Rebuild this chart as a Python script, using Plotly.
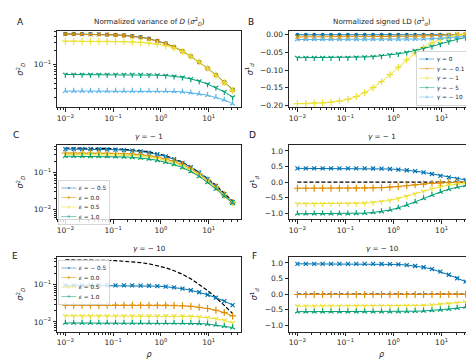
import plotly.graph_objects as go

# ---------------- data ----------------
rho = [0.01, 0.01496, 0.02239, 0.03350, 0.05012, 0.07499, 0.1122, 0.1679, 0.2512,
       0.3758, 0.5623, 0.8414, 1.259, 1.884, 2.818, 4.217, 6.310, 9.441, 14.13,
       21.13, 31.62]

# Panel A: normalized variance of D (eps = 0)
A_g0 = [0.452, 0.451, 0.450, 0.447, 0.444, 0.438, 0.431, 0.420, 0.405, 0.384, 0.357,
        0.322, 0.282, 0.238, 0.193, 0.150, 0.113, 0.083, 0.060, 0.042, 0.029]
A_g01 = [0.448, 0.447, 0.446, 0.443, 0.440, 0.435, 0.428, 0.417, 0.402, 0.381, 0.354,
         0.320, 0.280, 0.236, 0.191, 0.149, 0.112, 0.082, 0.059, 0.041, 0.0285]
A_g1 = [0.315, 0.315, 0.314, 0.314, 0.313, 0.312, 0.311, 0.308, 0.304, 0.297, 0.287,
        0.273, 0.253, 0.226, 0.190, 0.150, 0.113, 0.083, 0.059, 0.041, 0.028]
A_g5 = [0.061, 0.061, 0.061, 0.061, 0.061, 0.061, 0.061, 0.061, 0.061, 0.0605, 0.060,
        0.059, 0.058, 0.056, 0.053, 0.049, 0.044, 0.038, 0.032, 0.026, 0.020]
A_g10 = [0.027, 0.027, 0.027, 0.027, 0.027, 0.027, 0.027, 0.027, 0.027, 0.027, 0.027,
         0.027, 0.027, 0.0265, 0.026, 0.025, 0.0235, 0.022, 0.020, 0.0175, 0.0145]

# Panel B: normalized signed LD
B_g0 = [0.0] * 21
B_g01 = [-0.006, -0.006, -0.006, -0.006, -0.006, -0.006, -0.006, -0.006, -0.006, -0.006,
         -0.006, -0.0058, -0.0055, -0.005, -0.0045, -0.0035, -0.0025, -0.0015, -0.0005,
         0.0008, 0.002]
B_g1 = [-0.195, -0.195, -0.194, -0.193, -0.191, -0.188, -0.183, -0.175, -0.164, -0.150,
        -0.133, -0.113, -0.092, -0.071, -0.052, -0.036, -0.023, -0.013, -0.006, -0.001,
        0.002]
B_g5 = [-0.065, -0.065, -0.065, -0.065, -0.065, -0.065, -0.065, -0.064, -0.063, -0.062,
        -0.060, -0.057, -0.054, -0.050, -0.045, -0.040, -0.033, -0.026, -0.019, -0.013,
        -0.008]
B_g10 = [-0.0135, -0.0135, -0.0135, -0.0135, -0.0135, -0.0135, -0.0135, -0.0135, -0.0135,
         -0.0135, -0.0135, -0.0135, -0.0135, -0.013, -0.0125, -0.012, -0.011, -0.0095,
         -0.008, -0.0065, -0.005]

# Reference (dashed) curves
ref_var = [0.45, 0.45, 0.448, 0.446, 0.443, 0.437, 0.429, 0.418, 0.402, 0.381, 0.354,
           0.318, 0.277, 0.232, 0.186, 0.141, 0.101, 0.069, 0.045, 0.028, 0.0168]
ref_ld = [0.0] * 21

# Panel C: gamma = -1, variance
C_em05 = [0.42, 0.42, 0.419, 0.418, 0.416, 0.412, 0.405, 0.395, 0.381, 0.362, 0.338,
          0.305, 0.267, 0.224, 0.18, 0.137, 0.098, 0.066, 0.043, 0.026, 0.016]
C_e00 = [0.33, 0.33, 0.33, 0.329, 0.328, 0.326, 0.322, 0.317, 0.309, 0.297, 0.280,
         0.258, 0.230, 0.197, 0.161, 0.125, 0.091, 0.062, 0.041, 0.025, 0.0155]
C_e05 = [0.30, 0.30, 0.30, 0.299, 0.298, 0.296, 0.293, 0.288, 0.281, 0.270, 0.255,
         0.235, 0.210, 0.180, 0.148, 0.115, 0.085, 0.058, 0.038, 0.024, 0.015]
C_e10 = [0.27, 0.27, 0.27, 0.269, 0.268, 0.266, 0.263, 0.259, 0.252, 0.242, 0.228,
         0.210, 0.188, 0.162, 0.134, 0.105, 0.078, 0.054, 0.036, 0.023, 0.0148]

# Panel D: gamma = -1, signed LD
D_em05 = [0.44, 0.44, 0.44, 0.44, 0.44, 0.44, 0.44, 0.44, 0.44, 0.435, 0.43, 0.42, 0.40,
          0.38, 0.35, 0.31, 0.26, 0.20, 0.15, 0.10, 0.07]
D_e00 = [-0.20, -0.20, -0.20, -0.20, -0.20, -0.20, -0.20, -0.20, -0.195, -0.19, -0.18,
         -0.165, -0.145, -0.12, -0.09, -0.065, -0.04, -0.025, -0.015, -0.008, -0.004]
D_e05 = [-0.70, -0.70, -0.70, -0.70, -0.70, -0.70, -0.695, -0.69, -0.68, -0.66, -0.63,
         -0.59, -0.53, -0.46, -0.38, -0.30, -0.22, -0.15, -0.10, -0.07, -0.05]
D_e10 = [-1.02, -1.02, -1.02, -1.02, -1.02, -1.02, -1.02, -1.01, -1.0, -0.98, -0.95,
         -0.90, -0.83, -0.74, -0.64, -0.53, -0.42, -0.32, -0.23, -0.16, -0.11]

# Panel E: gamma = -10, variance
E_em05 = [0.094, 0.094, 0.094, 0.094, 0.094, 0.094, 0.094, 0.094, 0.094, 0.093, 0.092,
          0.090, 0.087, 0.083, 0.077, 0.070, 0.062, 0.053, 0.044, 0.036, 0.028]
E_e00 = [0.028, 0.028, 0.028, 0.028, 0.028, 0.028, 0.028, 0.028, 0.028, 0.028, 0.028,
         0.028, 0.028, 0.0275, 0.027, 0.026, 0.0245, 0.0228, 0.0205, 0.0178, 0.0145]
E_e05 = [0.0145, 0.0145, 0.0145, 0.0145, 0.0145, 0.0145, 0.0145, 0.0145, 0.0145, 0.0145,
         0.0145, 0.0145, 0.0145, 0.0145, 0.0143, 0.014, 0.0136, 0.013, 0.0121, 0.011,
         0.0095]
E_e10 = [0.0094, 0.0094, 0.0094, 0.0094, 0.0094, 0.0094, 0.0094, 0.0094, 0.0094, 0.0094,
         0.0094, 0.0094, 0.0094, 0.0094, 0.0094, 0.0093, 0.0091, 0.0088, 0.0083, 0.0077,
         0.0071]

# Panel F: gamma = -10, signed LD
F_em05 = [0.97, 0.97, 0.97, 0.97, 0.97, 0.97, 0.97, 0.97, 0.97, 0.97, 0.965, 0.96, 0.95,
          0.93, 0.90, 0.86, 0.80, 0.72, 0.62, 0.51, 0.40]
F_e00 = [-0.01] * 18 + [-0.008, -0.006, -0.004]
F_e05 = [-0.38, -0.38, -0.38, -0.38, -0.38, -0.38, -0.38, -0.38, -0.38, -0.38, -0.38,
         -0.38, -0.38, -0.375, -0.37, -0.36, -0.345, -0.325, -0.30, -0.275, -0.25]
F_e10 = [-0.56, -0.56, -0.56, -0.56, -0.56, -0.56, -0.56, -0.56, -0.56, -0.56, -0.56,
         -0.56, -0.555, -0.55, -0.545, -0.535, -0.52, -0.50, -0.475, -0.445, -0.41]

gamma_labels = ["<i>γ</i> = 0", "<i>γ</i> = − 0.1", "<i>γ</i> = − 1", "<i>γ</i> = − 5",
                "<i>γ</i> = − 10"]
eps_labels = ["<i>ε</i> = − 0.5", "<i>ε</i> = 0.0", "<i>ε</i> = 0.5", "<i>ε</i> = 1.0"]
x_tickvals = [0.01, 0.1, 1, 10]
x_ticktext = ["10<sup>−2</sup>", "10<sup>−1</sup>", "10<sup>0</sup>", "10<sup>1</sup>"]
y_log_tickvals = [0.01, 0.1]
y_log_ticktext = ["10<sup>−2</sup>", "10<sup>−1</sup>"]

# ---------------- style ----------------
BLUE, ORANGE, YELLOW, GREEN, LBLUE = "#0173b2", "#de8f05", "#ece133", "#029e73", "#56b4e9"
FONT = "DejaVu Sans"
W, H = 474, 364
INK = "#262626"

gamma_style = [(BLUE, "circle", 3), (ORANGE, "x-thin", 4), (YELLOW, "cross-thin", 5),
               (GREEN, "y-down", 4), (LBLUE, "y-up", 4)]
eps_style = [(BLUE, "x-thin", 4), (ORANGE, "cross-thin", 5), (YELLOW, "y-down", 4),
             (GREEN, "y-up", 4)]

fig = go.Figure()


def add(n, y, style, name=None, legend=None):
    c, sym, sz = style
    fig.add_trace(go.Scatter(
        x=rho, y=y, mode="lines+markers", name=name,
        line=dict(color=c, width=1),
        marker=dict(symbol=sym, size=sz, color=c, line=dict(color=c, width=1.2)),
        xaxis="x" + str(n), yaxis="y" + str(n),
        showlegend=legend is not None, legend=legend or "legend"))


def add_ref(n, y):
    fig.add_trace(go.Scatter(x=rho, y=y, mode="lines",
                             line=dict(color="black", width=1.2, dash="4px,2px"),
                             xaxis="x" + str(n), yaxis="y" + str(n), showlegend=False))


# A
for y, st in zip([A_g0, A_g01, A_g1, A_g5, A_g10], gamma_style):
    add(1, y, st)
# B
for y, st, nm in zip([B_g0, B_g01, B_g1, B_g5, B_g10], gamma_style, gamma_labels):
    add(2, y, st, nm, "legend")
# C
add_ref(3, ref_var)
for y, st, nm in zip([C_em05, C_e00, C_e05, C_e10], eps_style, eps_labels):
    add(3, y, st, nm, "legend2")
# D
add_ref(4, ref_ld)
for y, st in zip([D_em05, D_e00, D_e05, D_e10], eps_style):
    add(4, y, st)
# E
add_ref(5, ref_var)
for y, st, nm in zip([E_em05, E_e00, E_e05, E_e10], eps_style, eps_labels):
    add(5, y, st, nm, "legend3")
# F
add_ref(6, ref_ld)
for y, st in zip([F_em05, F_e00, F_e05, F_e10], eps_style):
    add(6, y, st)

# ---------------- layout ----------------
cols = [(49, 233), (281, 466)]
rows = [(23, 100), (137.5, 212.5), (250, 325.5)]
minor_log = [m * 10 ** k for k in range(-3, 2) for m in range(2, 10)]

axis_common = dict(showline=True, linecolor=INK, linewidth=1, mirror=True, ticks="outside",
                   ticklen=3.5, tickwidth=0.8, tickcolor=INK, showgrid=False, zeroline=False,
                   tickfont=dict(family=FONT, size=7.5, color=INK))
minor_common = dict(tickmode="array", tickvals=minor_log, ticks="outside", ticklen=2,
                    tickwidth=0.6, tickcolor=INK)

layout = {}
for i in range(6):
    n = i + 1
    r, cidx = divmod(i, 2)
    x0, x1 = cols[cidx]
    y0, y1 = rows[r]
    xa = dict(axis_common, type="log", domain=[x0 / W, x1 / W], range=[-2.175, 1.675],
              tickvals=x_tickvals, ticktext=x_ticktext, anchor="y" + str(n),
              minor=minor_common)
    ya = dict(axis_common, domain=[1 - y1 / H, 1 - y0 / H], anchor="x" + str(n))
    if cidx == 0:
        ya.update(type="log", tickvals=y_log_tickvals, ticktext=y_log_ticktext,
                  minor=minor_common,
                  title=dict(text="<i>σ</i><sup>2</sup><sub><i>D</i></sub>", standoff=8,
                             font=dict(family=FONT, size=8, color=INK)))
    else:
        ya.update(title=dict(text="<i>σ</i><sup>1</sup><sub><i>d</i></sub>", standoff=5,
                             font=dict(family=FONT, size=8, color=INK)))
    if n == 5 or n == 6:
        xa["title"] = dict(text="<i>ρ</i>", standoff=5, font=dict(family=FONT, size=8, color=INK))
    layout["xaxis" + ("" if n == 1 else str(n))] = xa
    layout["yaxis" + ("" if n == 1 else str(n))] = ya

layout["yaxis"]["range"] = [-1.92, -0.28]
layout["yaxis2"].update(range=[-0.206, 0.011], tickvals=[0.0, -0.05, -0.10, -0.15, -0.20],
                        tickformat=".2f")
layout["yaxis3"]["range"] = [-2.26, -0.26]
layout["yaxis4"].update(range=[-1.2, 1.2], tickvals=[1.0, 0.5, 0.0, -0.5, -1.0], tickformat=".1f")
layout["yaxis5"]["range"] = [-2.26, -0.26]
layout["yaxis6"].update(range=[-1.2, 1.2], tickvals=[1.0, 0.5, 0.0, -0.5, -1.0], tickformat=".1f")

fig.update_layout(**layout)

# Legends are laid out by Plotly at a larger font inside the paper (so they never push the
# margins), then shrunk and moved onto their panels after drawing (see post script).
leg_common = dict(font=dict(family=FONT, size=11.5, color=INK), bgcolor="rgba(255,255,255,0.8)",
                  bordercolor="#cccccc", borderwidth=1.6, itemwidth=30, tracegroupgap=0,
                  xanchor="left", yanchor="top")
fig.update_layout(
    width=W, height=H, margin=dict(l=0, r=0, t=0, b=0),
    paper_bgcolor="white", plot_bgcolor="white",
    legend=dict(leg_common, x=0.5, y=0.95),
    legend2=dict(leg_common, x=0.1, y=0.6),
    legend3=dict(leg_common, x=0.1, y=0.3),
)

# titles and panel letters
titles = [
    ("Normalized variance of <i>D</i> (<i>σ</i><sup>2</sup><sub><i>D</i></sub>)", 141, 14),
    ("Normalized signed LD (<i>σ</i><sup>1</sup><sub><i>d</i></sub>)", 374, 14),
    ("<i>γ</i> = − 1", 141, 129), ("<i>γ</i> = − 1", 374, 129),
    ("<i>γ</i> = − 10", 141, 242), ("<i>γ</i> = − 10", 374, 242),
]
for t, x, y in titles:
    fig.add_annotation(text=t, x=x / W, y=1 - y / H, xref="paper", yref="paper", showarrow=False,
                       font=dict(family=FONT, size=7.2, color=INK), xanchor="center",
                       yanchor="middle")
letters = [("A", 12, 14), ("B", 243, 14), ("C", 8, 128), ("D", 244, 128), ("E", 7, 249),
           ("F", 247, 249)]
for t, x, y in letters:
    fig.add_annotation(text=t, x=x / W, y=1 - y / H, xref="paper", yref="paper", showarrow=False,
                       font=dict(family=FONT, size=9, color="#111"), xanchor="center",
                       yanchor="middle")

post = """
var gd = document.getElementById('{plot_id}');
function compactLegends(){
  var S = 0.5;
  var pos = {legend: [408, 43], legend2: [50, 172], legend3: [50, 252]};
  Object.keys(pos).forEach(function(cls){
    var L = gd.querySelector('g.' + cls);
    if(!L) return;
    var tr = L.getAttribute('transform') || '';
    if(tr.indexOf('scale') >= 0) return;
    L.setAttribute('transform', 'translate(' + pos[cls][0] + ',' + pos[cls][1] + ') scale(' + S + ')');
  });
}
compactLegends();
gd.on('plotly_afterplot', compactLegends);
"""

fig.write_html("out.html", post_script=post)
